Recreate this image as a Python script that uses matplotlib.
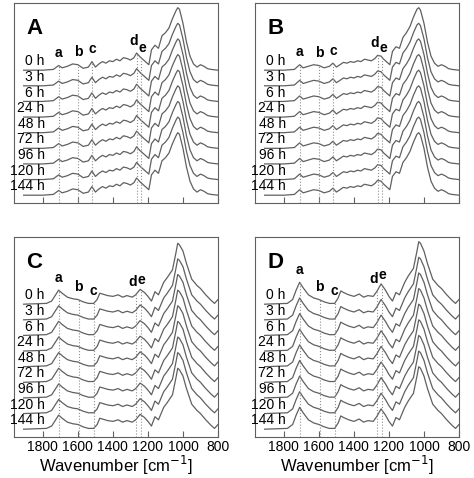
import numpy as np
import matplotlib.pyplot as plt

plt.rcParams['font.family'] = ['Liberation Sans', 'DejaVu Sans']

times = ['0 h', '3 h', '6 h', '24 h', '48 h', '72 h', '96 h', '120 h', '144 h']
offsets = [8, 7, 6, 5, 4, 3, 2, 1, 0]

wn_A = [1910, 1800, 1740, 1710, 1690, 1660, 1630, 1600, 1570, 1540, 1520, 1500, 1480, 1460,
        1440, 1420, 1400, 1380, 1360, 1340, 1320, 1300, 1280, 1265, 1245, 1230, 1210, 1195,
        1180, 1160, 1140, 1120, 1100, 1080, 1060, 1040, 1030, 1020, 1000, 980, 960, 940,
        920, 900, 880, 860, 840, 800]
abs_A = [0, 0, 0.05, 0.3, 0.15, 0.25, 0.4, 0.35, 0.12, 0.2, 0.55, 0.2, 0.4, 0.55,
         0.45, 0.6, 0.55, 0.7, 0.6, 0.8, 0.75, 0.65, 0.8, 1.1, 0.85, 0.7, 0.5, 0.35,
         1.3, 1.6, 1.4, 2.2, 2.4, 2.7, 3.3, 3.8, 4.0, 3.9, 3.0, 1.8, 0.9, 0.4,
         0.2, 0.35, 0.25, 0.1, 0.05, 0.0]
abs_B = [0, 0, 0.05, 0.35, 0.15, 0.25, 0.35, 0.3, 0.15, 0.25, 0.45, 0.2, 0.35, 0.5,
         0.45, 0.55, 0.5, 0.6, 0.55, 0.7, 0.65, 0.6, 0.75, 0.95, 0.9, 0.7, 0.5, 0.35,
         1.2, 1.5, 1.4, 2.1, 2.4, 2.8, 3.4, 3.9, 4.0, 3.85, 3.0, 1.8, 0.9, 0.45,
         0.25, 0.35, 0.25, 0.1, 0.05, 0.0]
wn_C = [1910, 1780, 1750, 1730, 1710, 1690, 1660, 1630, 1600, 1570, 1540, 1510, 1490, 1475,
        1460, 1430, 1400, 1370, 1345, 1320, 1290, 1270, 1245, 1220, 1200, 1180, 1160, 1140,
        1110, 1090, 1060, 1040, 1030, 1020, 1000, 980, 950, 920, 900, 870, 840, 820, 800]
abs_C = [0, 0.05, 0.2, 0.55, 0.9, 0.7, 0.45, 0.35, 0.3, 0.15, 0.05, 0.05, 0.3, 0.7,
         0.65, 0.55, 0.5, 0.6, 0.45, 0.55, 0.45, 0.6, 0.95, 0.75, 0.5, 0.2, 0.8, 0.6,
         1.4, 1.7, 2.2, 3.3, 3.9, 3.8, 3.4, 2.6, 1.6, 1.2, 1.0, 0.6, 0.25, 0.05, 0.3]
abs_D = [0, 0.05, 0.3, 0.9, 1.4, 1.05, 0.6, 0.4, 0.3, 0.15, 0.05, 0.05, 0.4, 0.85,
         0.75, 0.6, 0.5, 0.65, 0.45, 0.55, 0.5, 0.8, 1.3, 0.9, 0.5, 0.2, 0.75, 0.6,
         1.4, 1.8, 2.3, 3.4, 4.0, 3.9, 3.4, 2.6, 1.6, 1.2, 1.0, 0.6, 0.25, 0.05, 0.3]

marks_AB = {'a': 1710, 'b': 1600, 'c': 1520, 'd': 1265, 'e': 1240}
marks_CD = {'a': 1710, 'b': 1595, 'c': 1510, 'd': 1270, 'e': 1242}

panels = [('A', wn_A, abs_A, marks_AB, [14, 3], False),
          ('B', wn_A, abs_B, marks_AB, [255, 3], False),
          ('C', wn_C, abs_C, marks_CD, [14, 237], True),
          ('D', wn_C, abs_D, marks_CD, [255, 237], True)]

W, H = 474, 478
fig = plt.figure(figsize=(W/100, H/100), dpi=100)
for name, wn, ab, marks, (px, py), bottom in panels:
    ax = fig.add_axes([px/W, 1-(py+200)/H, 204/W, 200/H])
    wn = np.array(wn)
    ab = np.array(ab)
    for t, off in zip(times, offsets):
        ax.plot(wn, ab + off, color='#606060', lw=0.9)
        ax.text(1790, off + 0.12, t, ha='right', va='bottom', fontsize=10)
    for lab, x in marks.items():
        ytop = np.interp(x, wn[::-1], ab[::-1]) + 8
        ax.plot([x, x], [-0.5, ytop], ls=':', color='#909090', lw=0.8)
        dy = 0.15 if lab == 'e' else 0.35
        shift = {'d': 18, 'e': -6}.get(lab, 0)
        ax.text(x + shift, ytop + dy, lab, ha='center', va='bottom',
                fontsize=10, fontweight='bold')
    ax.text(0.06, 0.87, name, transform=ax.transAxes, fontsize=16, fontweight='bold', va='center')
    ax.set_xlim(1965, 800)
    ax.set_ylim(-0.5, 12.3)
    ax.set_yticks([])
    ax.set_xticks([1800, 1600, 1400, 1200, 1000, 800])
    ax.tick_params(axis='x', direction='in', length=4, color='#606060', labelsize=10, pad=2)
    for s in ax.spines.values():
        s.set_color('#606060')
    if bottom:
        ax.set_xlabel('Wavenumber [cm$^{-1}$]', fontsize=12, labelpad=0)
    else:
        ax.set_xticklabels([])

fig.savefig('out.png', dpi=100)
